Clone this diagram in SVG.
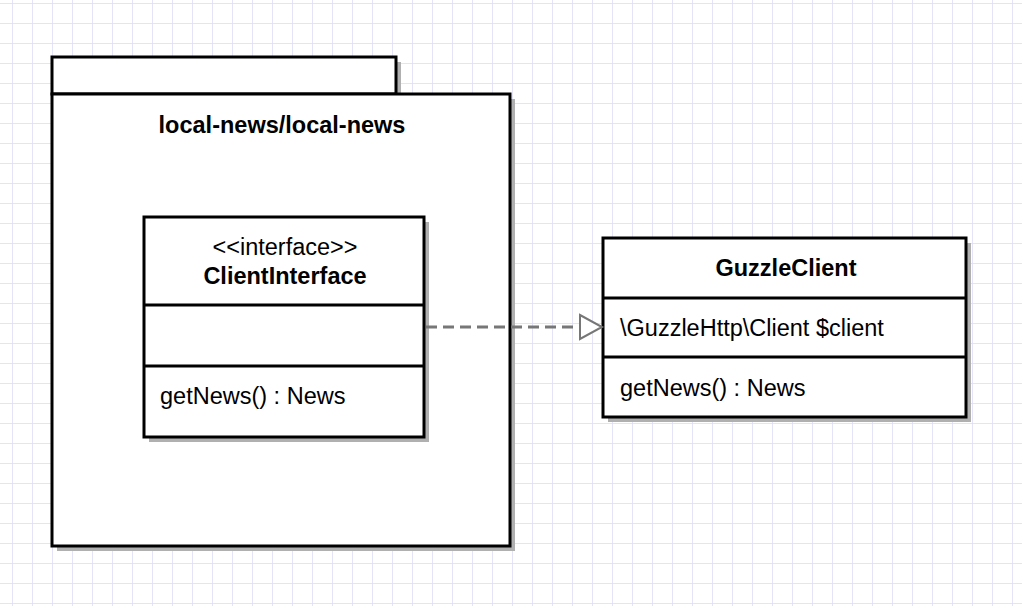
<svg xmlns="http://www.w3.org/2000/svg" width="1022" height="606" viewBox="0 0 1022 606">
<defs>
<pattern id="grid" x="12" y="3" width="20" height="20" patternUnits="userSpaceOnUse">
<path d="M0 0H20M0 0V20" fill="none" stroke="#dcdcf6" stroke-width="1.5"/>
</pattern>
<marker id="tri" markerWidth="26" markerHeight="28" refX="23" refY="14" orient="auto" markerUnits="userSpaceOnUse">
<path d="M1 2L23 14L1 26Z" fill="#fff" stroke="#777" stroke-width="2"/>
</marker>
</defs>
<style>
.box{fill:#fff;stroke:#000;stroke-width:3}
.sh{fill:#b0b0b0}
.ln{stroke:#000;stroke-width:3}
text{font-family:"Liberation Sans",Arial,sans-serif;font-size:23.5px;fill:#000}
.b{font-weight:bold}
</style>
<rect width="1022" height="606" fill="#fff"/>
<rect width="1022" height="606" fill="url(#grid)"/>
<g id="package">
<rect class="sh" x="57" y="62" width="344" height="37"/>
<rect class="sh" x="57" y="99" width="458" height="452"/>
<rect class="box" x="52" y="57" width="344" height="37"/>
<rect class="box" x="52" y="94" width="458" height="452"/>
<text class="b" x="282" y="133" text-anchor="middle">local-news/local-news</text>
</g>
<g id="ClientInterface">
<rect class="sh" x="149" y="222" width="280" height="220"/>
<rect class="box" x="144" y="217" width="280" height="220"/>
<line class="ln" x1="144" y1="305" x2="424" y2="305"/>
<line class="ln" x1="144" y1="366" x2="424" y2="366"/>
<text x="285" y="255" text-anchor="middle">&lt;&lt;interface&gt;&gt;</text>
<text class="b" x="285" y="284" text-anchor="middle">ClientInterface</text>
<text x="160" y="404">getNews() : News</text>
</g>
<g id="GuzzleClient">
<rect class="sh" x="608" y="243" width="363" height="179"/>
<rect class="box" x="603" y="238" width="363" height="179"/>
<line class="ln" x1="603" y1="298" x2="966" y2="298"/>
<line class="ln" x1="603" y1="357" x2="966" y2="357"/>
<text class="b" x="786" y="276" text-anchor="middle">GuzzleClient</text>
<text x="620" y="336">\GuzzleHttp\Client $client</text>
<text x="620" y="396">getNews() : News</text>
</g>
<g id="connectors">
<line x1="426" y1="327" x2="602" y2="327" stroke="#777" stroke-width="3" stroke-dasharray="11,6" marker-end="url(#tri)"/>
</g>
</svg>
